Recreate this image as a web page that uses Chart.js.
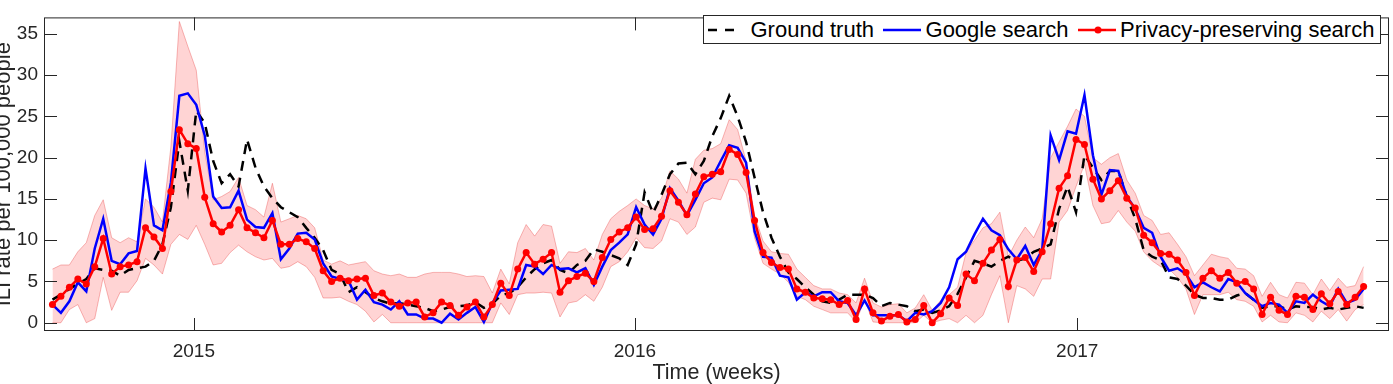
<!DOCTYPE html>
<html>
<head>
<meta charset="utf-8">
<script src="https://cdn.jsdelivr.net/npm/chart.js@4.4.1/dist/chart.umd.min.js"></script>
<style>
  html, body { margin: 0; padding: 0; background: #fff; }
  #wrap { position: relative; width: 1393px; height: 384px; overflow: hidden; }
  #legend {
    position: absolute; left: 703px; top: 15px; height: 29px;
    box-sizing: border-box; border: 1px solid #262626; background: #fff;
    display: inline-flex; align-items: center; padding: 0 6px 0 4px;
    font: 22px "Liberation Sans", Arial, sans-serif; color: #000; white-space: nowrap;
  }
  #legend .item { display: inline-flex; align-items: center; margin-right: 9px; }
  #legend .item:last-child { margin-right: 0; }
  #legend svg { margin-right: 4.5px; }
</style>
</head>
<body>
<div id="wrap">
  <canvas id="chart" width="1393" height="384"></canvas>
  <div id="legend"></div>
</div>
<script>
// weekly ILI estimates, first week ~ 2014-09-06
const startDate = Date.UTC(2014, 8, 6);
const yearLabels = ['2015', '2016', '2017'];
const yTickValues = [0, 5, 10, 15, 20, 25, 30, 35];
const seriesNames = ['Ground truth', 'Google search', 'Privacy-preserving search'];

const groundTruth = [
  2.8, 3.4, 4.1, 4.7, 5.3, 6.6, 6.4, 6.3, 5.7, 6.4,
  6.6, 6.8, 7.5, 9.5, 14.0, 22.0, 16.0, 25.7, 24.2, 19.6,
  16.9, 18.0, 16.5, 22.2, 18.8, 16.5, 15.1, 14.0, 13.4, 12.8,
  11.5, 10.3, 8.8, 6.4, 5.9, 3.7, 4.3, 3.7, 3.0, 2.6,
  2.3, 2.4, 2.2, 2.0, 1.8, 1.4, 1.6, 1.9, 2.0, 2.1,
  2.5, 1.8, 2.3, 3.3, 3.6, 4.3, 5.5, 6.5, 7.2, 7.6,
  6.4, 6.0, 7.0, 7.5, 8.9, 8.6, 8.2, 7.8, 7.0, 9.5,
  15.8, 13.3, 15.5, 18.0, 19.3, 19.4, 18.0, 19.6, 22.6, 24.8,
  27.5, 25.0, 21.9, 17.6, 13.4, 10.3, 8.0, 6.1, 5.3, 4.3,
  3.4, 2.6, 2.4, 2.8, 3.4, 3.4, 3.4, 3.0, 2.0, 2.4,
  2.2, 2.0, 1.4, 1.6, 1.2, 1.5, 2.0, 3.5, 5.5, 7.5,
  7.2, 6.8, 7.5, 8.0, 7.5, 7.8, 8.6, 9.0, 9.5, 13.8,
  16.5, 13.4, 20.3, 18.8, 17.3, 18.4, 18.4, 15.3, 12.6, 8.8,
  8.0, 7.6, 5.5, 5.3, 4.5, 3.4, 3.0, 3.0, 2.8, 2.8,
  3.3, 3.6, 2.8, 1.8, 2.0, 2.0, 1.6, 2.0, 1.9, 1.9,
  1.6, 1.8, 1.6, 1.8, 2.0, 1.8
];

const googleSearch = [
  2.2, 1.2, 2.6, 4.9, 3.8, 9.0, 12.6, 7.5, 7.1, 8.4,
  8.7, 18.7, 11.8, 11.2, 17.0, 27.5, 27.8, 26.4, 22.7, 15.3,
  13.9, 14.0, 16.0, 12.5, 11.6, 11.5, 13.3, 7.7, 9.0, 10.8,
  10.9, 10.1, 7.2, 5.6, 5.3, 5.1, 2.8, 4.0, 2.5, 2.2,
  1.6, 2.6, 1.0, 1.0, 0.5, 0.5, 0.0, 1.1, 0.4, 1.2,
  1.9, 0.1, 2.4, 3.9, 4.0, 4.1, 7.0, 6.8, 5.9, 7.0,
  6.5, 6.6, 6.1, 6.6, 4.6, 6.8, 8.8, 9.7, 10.7, 14.0,
  11.9, 10.7, 12.6, 16.3, 14.8, 13.0, 14.9, 16.9, 17.6, 19.6,
  21.5, 21.2, 19.4, 11.1, 8.0, 7.9, 5.7, 5.5, 2.8, 3.7,
  3.2, 3.7, 3.7, 2.6, 2.4, 0.9, 2.7, 0.9, 0.9, 0.9,
  0.9, 0.2, 1.2, 1.0, 1.4, 2.4, 4.3, 7.7, 8.6, 10.7,
  12.6, 11.2, 10.6, 8.9, 7.7, 9.3, 7.0, 8.8, 22.7, 19.7,
  23.2, 22.9, 27.6, 20.3, 15.5, 18.5, 18.4, 15.3, 13.8, 11.5,
  10.9, 8.0, 6.3, 6.6, 5.9, 4.3, 4.9, 4.3, 3.8, 5.3,
  4.9, 3.6, 2.8, 2.0, 2.4, 2.2, 1.2, 2.6, 2.4, 3.4,
  2.6, 2.0, 4.1, 2.4, 2.8, 4.1
];

const privateSearch = [
  2.2, 3.2, 4.3, 5.3, 4.7, 6.8, 10.2, 5.9, 6.8, 7.0,
  7.4, 11.5, 10.4, 9.0, 15.9, 23.4, 21.7, 21.1, 15.2, 12.0,
  11.0, 11.8, 13.7, 11.5, 10.9, 10.3, 12.4, 9.5, 9.5, 10.2,
  9.8, 9.0, 6.3, 5.0, 5.4, 5.1, 5.3, 5.4, 3.3, 3.6,
  2.5, 2.0, 2.4, 2.5, 0.7, 1.2, 2.5, 2.1, 0.9, 1.9,
  2.5, 0.7, 2.2, 4.8, 3.3, 6.5, 8.5, 7.1, 7.7, 8.5,
  3.7, 5.1, 5.6, 6.0, 5.0, 7.9, 10.1, 11.0, 11.5, 12.8,
  11.3, 11.4, 12.9, 16.0, 14.6, 13.1, 15.6, 17.7, 18.0, 18.3,
  21.0, 20.4, 18.2, 12.4, 8.5, 7.3, 6.7, 6.5, 4.1, 3.7,
  3.0, 2.9, 2.8, 2.2, 2.7, 0.4, 4.1, 1.2, 0.2, 0.8,
  1.0, 0.1, 0.4, 2.1, 0.0, 1.1, 3.0, 2.1, 5.9, 5.1,
  7.2, 8.8, 10.1, 4.4, 7.6, 7.9, 6.2, 8.6, 12.0, 16.3,
  17.8, 22.2, 21.6, 17.4, 15.0, 16.0, 17.2, 15.1, 13.9, 10.6,
  9.7, 8.4, 8.3, 7.6, 6.1, 3.3, 5.4, 6.3, 5.4, 6.1,
  4.8, 5.0, 4.1, 1.0, 3.1, 1.5, 1.0, 3.2, 3.1, 1.6,
  3.5, 2.3, 3.8, 2.2, 3.1, 4.4
];

const bandUpper = [
  6.5, 7.0, 7.0, 8.6, 9.7, 13.0, 14.9, 10.3, 9.7, 10.3,
  9.8, 15.0, 14.0, 12.2, 21.3, 36.5, 33.5, 30.6, 20.7, 14.9,
  15.3, 15.9, 17.6, 14.2, 13.7, 12.8, 16.9, 12.2, 12.6, 13.0,
  12.6, 11.5, 7.6, 7.1, 7.5, 7.0, 7.2, 7.4, 6.3, 5.9,
  5.7, 5.9, 5.5, 5.5, 5.9, 6.1, 6.1, 6.1, 5.9, 5.6,
  5.7, 5.6, 3.6, 6.5, 4.7, 9.7, 11.9, 10.5, 11.9, 11.7,
  7.2, 8.6, 8.5, 9.0, 7.6, 10.7, 12.6, 13.5, 14.2, 15.0,
  14.2, 13.8, 15.1, 18.4, 17.4, 15.7, 19.8, 20.9, 21.1, 21.7,
  24.6, 23.4, 19.6, 13.0, 9.9, 8.6, 8.4, 8.3, 6.5, 5.5,
  4.5, 4.1, 4.1, 3.6, 3.4, 2.4, 5.4, 2.4, 1.9, 2.2,
  2.3, 1.2, 1.8, 3.4, 1.5, 2.7, 3.4, 4.3, 8.5, 10.0,
  11.5, 12.0, 13.4, 8.0, 10.0, 11.6, 10.3, 12.6, 20.0, 21.9,
  23.8, 25.9, 25.0, 20.0, 19.2, 20.0, 20.5, 17.3, 15.7, 13.0,
  12.4, 10.7, 10.9, 9.5, 8.0, 5.7, 7.0, 8.3, 8.0, 7.8,
  6.6, 6.5, 5.7, 3.2, 4.9, 3.4, 3.0, 4.9, 4.8, 3.4,
  5.3, 3.9, 5.4, 4.3, 4.5, 6.8
];

const bandLower = [
  0.0, 0.0, 1.6, 2.2, 0.0, 0.5, 5.5, 1.5, 3.7, 3.7,
  5.1, 7.8, 7.0, 5.9, 9.5, 10.7, 10.1, 11.8, 9.5, 7.0,
  7.2, 8.5, 9.4, 8.6, 8.0, 7.6, 7.8, 6.6, 6.8, 7.4,
  6.8, 5.5, 3.0, 3.0, 3.1, 2.6, 2.2, 1.4, 0.1, 1.0,
  0.0, 0.0, 0.0, 0.0, 0.0, 0.0, 0.0, 0.0, 0.0, 0.0,
  0.0, 0.0, 0.0, 2.4, 1.0, 3.4, 3.6, 3.6, 3.7, 3.6,
  0.7, 2.4, 2.6, 3.4, 2.6, 4.3, 6.8, 7.4, 8.6, 10.3,
  9.1, 9.0, 9.9, 12.6, 12.2, 10.7, 11.6, 14.6, 15.1, 14.9,
  17.4, 17.3, 15.7, 10.3, 7.2, 6.5, 5.9, 4.9, 3.2, 2.8,
  2.0, 1.6, 1.2, 1.2, 1.2, 0.1, 2.8, 0.1, 0.0, 0.0,
  0.0, 0.0, 0.0, 0.9, 0.0, 0.3, 0.5, 0.0, 0.9, 0.0,
  0.9, 3.4, 5.7, 0.0, 4.5, 4.1, 3.2, 5.3, 5.3, 12.2,
  13.6, 16.5, 19.2, 14.2, 12.0, 12.2, 13.6, 12.2, 11.1, 8.6,
  7.5, 6.8, 6.5, 5.5, 4.1, 1.0, 3.4, 3.4, 3.4, 3.7,
  2.8, 2.6, 2.0, 0.1, 0.9, 0.1, 0.0, 1.2, 0.9, 0.1,
  1.4, 0.5, 1.6, 0.2, 1.6, 2.2
];

const WEEK = 7 * 24 * 3600 * 1000;
const yearTicks = yearLabels.map(y => (Date.UTC(+y, 0, 1) - startDate) / WEEK);
const xy = arr => arr.map((v, i) => ({ x: i, y: v }));

const axisColor = '#262626';
const fontFamily = '"Liberation Sans", Arial, sans-serif';

// box + inward tick marks + y title, MATLAB style
const frame = {
  id: 'frame',
  afterDraw(chart) {
    const { ctx, chartArea: a, scales: { x, y } } = chart;
    const tl = 13;
    ctx.save();
    ctx.strokeStyle = axisColor;
    ctx.lineWidth = 1;
    ctx.strokeRect(a.left + 0.5, a.top + 0.5, a.right - a.left - 1, a.bottom - a.top - 1);
    ctx.beginPath();
    y.ticks.forEach(t => {
      const p = Math.round(y.getPixelForValue(t.value)) + 0.5;
      ctx.moveTo(a.left, p); ctx.lineTo(a.left + tl, p);
      ctx.moveTo(a.right, p); ctx.lineTo(a.right - tl, p);
    });
    x.ticks.forEach(t => {
      const p = Math.round(x.getPixelForValue(t.value)) + 0.5;
      ctx.moveTo(p, a.bottom); ctx.lineTo(p, a.bottom - tl);
      ctx.moveTo(p, a.top); ctx.lineTo(p, a.top + tl);
    });
    ctx.stroke();

    ctx.translate(10, (a.top + a.bottom) / 2);
    ctx.rotate(-Math.PI / 2);
    ctx.font = '22px ' + fontFamily;
    ctx.fillStyle = axisColor;
    ctx.textAlign = 'center';
    ctx.textBaseline = 'alphabetic';
    ctx.fillText('ILI rate per 100,000 people', 0, 0);
    ctx.restore();
  }
};

const chart = new Chart(document.getElementById('chart'), {
  type: 'line',
  data: {
    datasets: [
      {
        label: seriesNames[2], data: xy(privateSearch), order: 0,
        borderColor: '#ff0000', backgroundColor: '#ff0000', borderWidth: 2.5,
        pointRadius: 3.5, pointBorderWidth: 0, pointBackgroundColor: '#ff0000'
      },
      {
        label: seriesNames[1], data: xy(googleSearch), order: 1,
        borderColor: '#0000ff', borderWidth: 2.5, pointRadius: 0
      },
      {
        label: seriesNames[0], data: xy(groundTruth), order: 2,
        borderColor: '#000000', borderWidth: 2.5, borderDash: [10, 7], pointRadius: 0
      },
      {
        label: 'upper', data: xy(bandUpper), order: 3,
        borderColor: 'rgba(230, 60, 60, 0.45)', borderWidth: 0.8, pointRadius: 0,
        backgroundColor: 'rgba(255, 0, 0, 0.17)', fill: '+1'
      },
      {
        label: 'lower', data: xy(bandLower), order: 3,
        borderColor: 'rgba(230, 60, 60, 0.45)', borderWidth: 0.8, pointRadius: 0, fill: false
      }
    ]
  },
  options: {
    responsive: false,
    animation: false,
    devicePixelRatio: 1,
    layout: { autoPadding: false, padding: { left: 0, right: 4, top: 2, bottom: 0 } },
    plugins: { legend: { display: false }, tooltip: { enabled: false } },
    elements: { line: { tension: 0 } },
    scales: {
      x: {
        type: 'linear', min: -1, max: 158,
        grid: { display: false, drawTicks: false }, border: { display: false },
        afterBuildTicks: s => { s.ticks = yearTicks.map(v => ({ value: v })); },
        afterFit: s => { s.height = 53; },
        ticks: {
          padding: 9, color: axisColor, maxRotation: 0,
          font: { family: fontFamily, size: 19 },
          callback: (v, i) => yearLabels[i]
        },
        title: {
          display: true, text: 'Time (weeks)', color: axisColor, padding: 0,
          font: { family: fontFamily, size: 21.5, lineHeight: 1 }
        }
      },
      y: {
        min: -1, max: 37,
        grid: { display: false, drawTicks: false }, border: { display: false },
        afterBuildTicks: s => { s.ticks = yTickValues.map(v => ({ value: v })); },
        afterFit: s => { s.width = 44; },
        ticks: { padding: 6, color: axisColor, font: { family: fontFamily, size: 19 } }
      }
    }
  },
  plugins: [frame]
});

// legend box built from the line datasets
const legend = document.getElementById('legend');
seriesNames.forEach(name => {
  const ds = chart.data.datasets.find(d => d.label === name);
  const item = document.createElement('span');
  item.className = 'item';
  const line = ds.borderDash
    ? '<line x1="0" y1="6" x2="26" y2="6" stroke="' + ds.borderColor + '" stroke-width="' + ds.borderWidth + '" stroke-dasharray="9 8"/>'
    : '<line x1="0" y1="6" x2="38" y2="6" stroke="' + ds.borderColor + '" stroke-width="' + ds.borderWidth + '"/>';
  const dot = ds.pointRadius ? '<circle cx="20" cy="6" r="' + ds.pointRadius + '" fill="' + ds.borderColor + '"/>' : '';
  item.innerHTML = '<svg width="38" height="12">' + line + dot + '</svg>';
  const label = document.createElement('span');
  label.textContent = name;
  item.appendChild(label);
  legend.appendChild(item);
});
</script>
</body>
</html>
